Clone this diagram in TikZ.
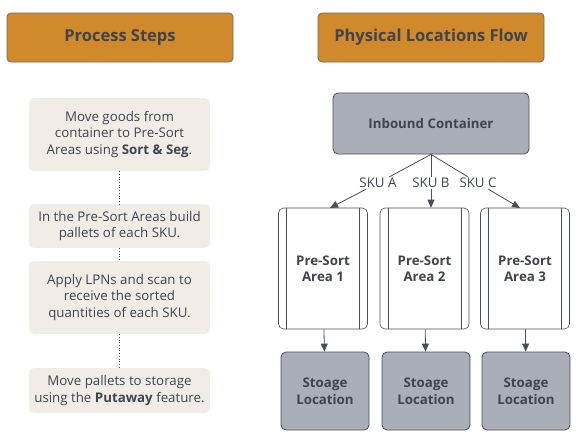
\documentclass[tikz,border=0pt]{standalone}
\usepackage{fontspec}
\setmainfont{Open Sans}
\usetikzlibrary{arrows.meta}
\definecolor{hdrfill}{HTML}{D0892B}
\definecolor{hdrline}{HTML}{6E6A66}
\definecolor{txtgray}{HTML}{3F4450}
\definecolor{stepfill}{HTML}{F1ECE6}
\definecolor{locfill}{HTML}{A9AEB8}
\definecolor{locline}{HTML}{4A4F57}
\tikzset{
  header/.style={draw=hdrline, fill=hdrfill, rounded corners=4pt, line width=0.8pt,
    minimum width=226pt, minimum height=49pt, text=txtgray, font=\fontsize{16.5}{19}\selectfont\bfseries},
  stepbox/.style={fill=stepfill, rounded corners=5pt, minimum width=181pt, align=center,
    text=txtgray, font=\fontsize{13.3}{16.5}\selectfont},
  locbox/.style={draw=locline, fill=locfill, rounded corners=5pt, line width=0.8pt, align=center,
    text=txtgray, font=\fontsize{13.3}{16.5}\selectfont\bfseries},
  areabox/.style={draw=locline, fill=white, rounded corners=5pt, line width=0.6pt, align=center,
    minimum width=89pt, minimum height=121pt, text=txtgray, font=\fontsize{13.3}{16.5}\selectfont\bfseries,
    path picture={
      \draw[locline, line width=0.6pt] ([xshift=8pt]path picture bounding box.north west) -- ([xshift=8pt]path picture bounding box.south west);
      \draw[locline, line width=0.6pt] ([xshift=-8pt]path picture bounding box.north east) -- ([xshift=-8pt]path picture bounding box.south east);
    }},
  sku/.style={text=txtgray, font=\fontsize{13.3}{15}\selectfont, inner sep=1pt},
  dots/.style={draw=txtgray, dotted, line width=0.7pt},
  flow/.style={draw=locline, line width=0.8pt, -{Triangle[width=7pt,length=8pt]}},
}
\begin{document}
\begin{tikzpicture}[x=1pt, y=-1pt]
\useasboundingbox (0,0) rectangle (580,439);
% headers
\node[header] (hsteps) at (120,37.5){Process Steps};
\node[header] (hflow) at (431,37.5){Physical Locations Flow};
% process steps
\node[stepbox, minimum height=73pt] (step1) at (119.5,134.5){Move goods from\\container to Pre-Sort\\Areas using \textbf{Sort \& Seg}.};
\node[stepbox, minimum height=44pt] (step2) at (119.5,226){In the Pre-Sort Areas build\\pallets of each SKU.};
\node[stepbox, minimum height=73pt] (step3) at (119.5,297.5){Apply LPNs and scan to\\receive the sorted\\quantities of each SKU.};
\node[stepbox, minimum height=45pt] (step4) at (119.5,390.5){Move pallets to storage\\using the \textbf{Putaway} feature.};
\draw[dots](step1) -- (step2);
\draw[dots](step2) -- (step3);
\draw[dots](step3) -- (step4);
% locations
\node[locbox, minimum width=196pt, minimum height=61pt] (inbound) at (431,123.5){Inbound Container};
\node[areabox] (area1) at (323,268.5){Pre-Sort\\Area 1};
\node[areabox] (area2) at (424.5,268.5){Pre-Sort\\Area 2};
\node[areabox] (area3) at (525,268.5){Pre-Sort\\Area 3};
\node[locbox, minimum width=88pt, minimum height=78pt] (store1) at (325,391){Stoage\\Location};
\node[locbox, minimum width=88pt, minimum height=78pt] (store2) at (426,391){Stoage\\Location};
\node[locbox, minimum width=88pt, minimum height=78pt] (store3) at (526,391){Stoage\\Location};
\node[sku] (skuA) at (378,183){SKU A};
\node[sku] (skuB) at (431,183){SKU B};
\node[sku] (skuC) at (478,183){SKU C};
\coordinate (fork) at (inbound.south);
\draw[locline, line width=0.8pt](fork) -- (skuA);
\draw[locline, line width=0.8pt](fork) -- (skuB);
\draw[locline, line width=0.8pt](fork) -- (skuC);
\draw[flow](skuA) -- (330,208);
\draw[flow](skuB) -- (skuB |- area2.north);
\draw[flow](skuC) -- (520,208);
\draw[flow](area1) -- (store1);
\draw[flow](area2) -- (store2);
\draw[flow](area3) -- (store3);
\end{tikzpicture}
\end{document}
